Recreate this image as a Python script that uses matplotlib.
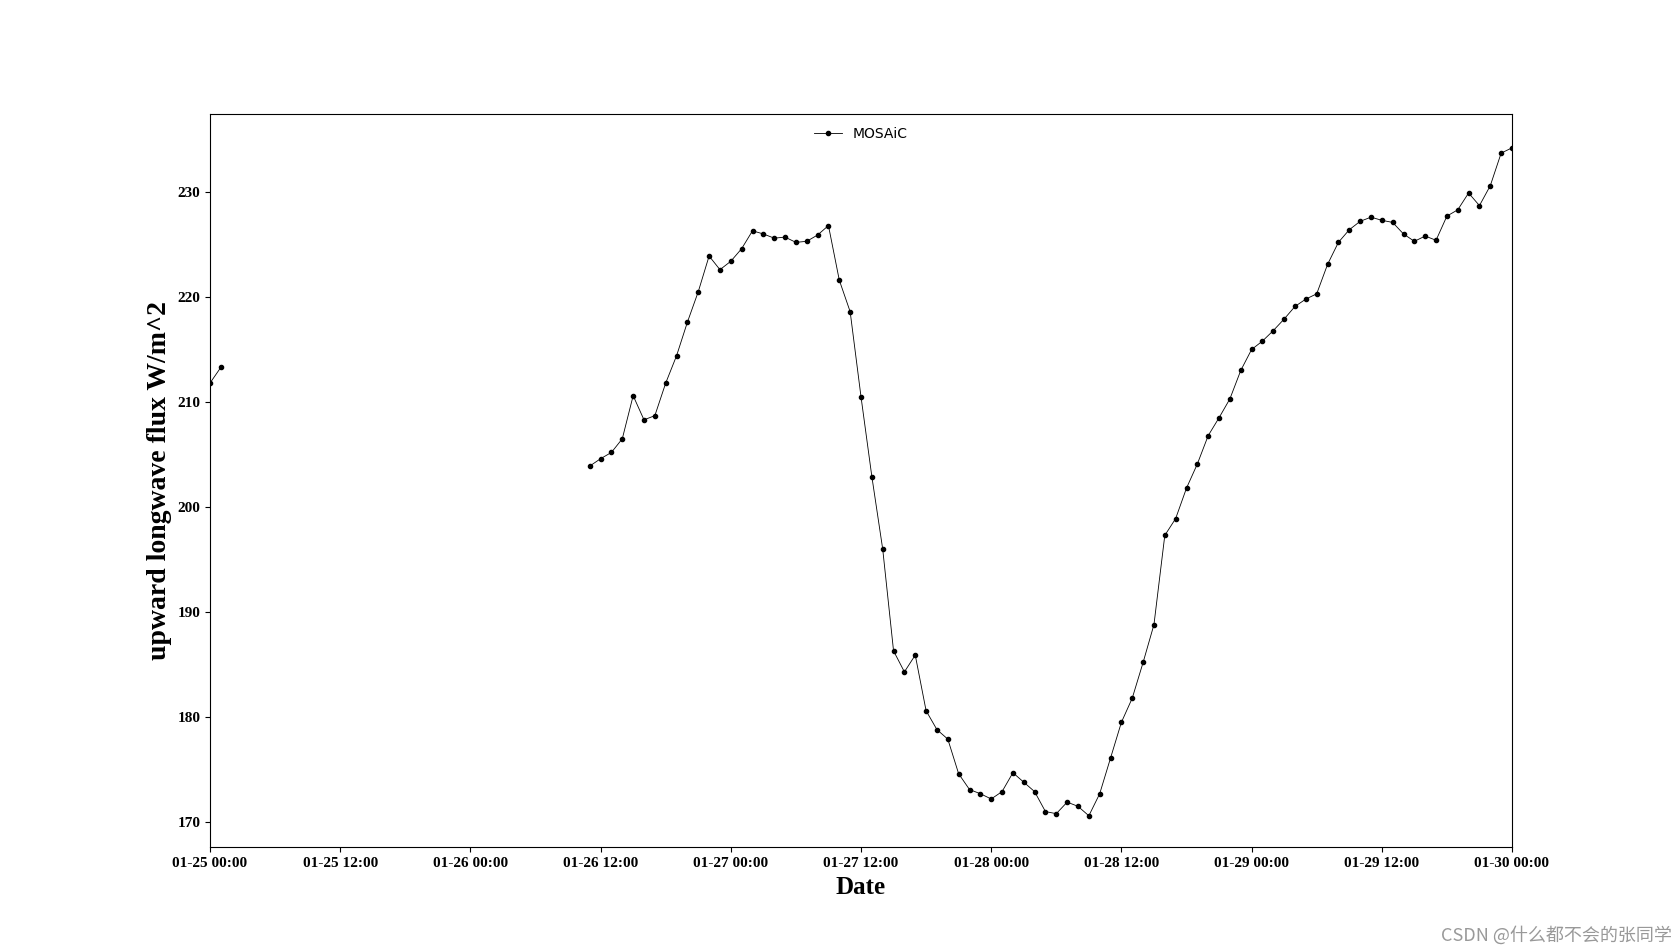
import matplotlib
matplotlib.use("Agg")
import matplotlib.pyplot as plt
import matplotlib.dates as mdates
import numpy as np
import pandas as pd

start = pd.Timestamp("2020-01-25 00:00")
times1 = pd.date_range(start, periods=2, freq="h")
vals1 = [211.8, 213.3]
times2 = pd.date_range(start + pd.Timedelta(hours=35), periods=86, freq="h")
vals2 = [203.9, 204.6, 205.2, 206.5, 210.6, 208.3, 208.7, 211.8, 214.4, 217.6,
         220.5, 223.9, 222.6, 223.4, 224.6, 226.3, 226.0, 225.6, 225.7, 225.2,
         225.3, 225.9, 226.8, 221.6, 218.6, 210.5, 202.9, 196.0, 186.3, 184.3,
         185.9, 180.6, 178.8, 177.9, 174.6, 173.1, 172.7, 172.2, 172.9, 174.7,
         173.8, 172.9, 171.0, 170.8, 171.9, 171.5, 170.6, 172.7, 176.1, 179.5,
         181.8, 185.2, 188.8, 197.3, 198.9, 201.8, 204.1, 206.8, 208.5, 210.3,
         213.0, 215.0, 215.8, 216.8, 217.9, 219.1, 219.8, 220.3, 223.1, 225.2,
         226.4, 227.2, 227.6, 227.3, 227.1, 226.0, 225.3, 225.8, 225.4, 227.7,
         228.3, 229.9, 228.7, 230.6, 233.7, 234.2]

times = list(times1) + [start + pd.Timedelta(hours=10)] + list(times2)
vals = vals1 + [np.nan] + vals2

fig = plt.figure(figsize=(16.8, 9.52), dpi=100)
ax = fig.add_subplot(111)
ax.plot(times, vals, color="black", marker="o", markersize=3, linewidth=0.6, label="MOSAiC")
ax.set_xlim(start, start + pd.Timedelta(days=5))
ax.set_ylim(167.6, 237.4)
ax.xaxis.set_major_locator(mdates.HourLocator(byhour=[0, 12]))
ax.xaxis.set_major_formatter(mdates.DateFormatter("%m-%d %H:%M"))
ax.set_yticks([170, 180, 190, 200, 210, 220, 230])
for lab in ax.get_xticklabels() + ax.get_yticklabels():
    lab.set_fontfamily("Liberation Serif")
    lab.set_fontweight("bold")
    lab.set_fontsize(11)
ax.set_xlabel("Date", fontfamily="Liberation Serif", fontweight="bold", fontsize=18)
ax.set_ylabel("upward longwave flux W/m^2", fontfamily="Liberation Serif", fontweight="bold", fontsize=20)
ax.legend(loc="upper center", frameon=False, fontsize=10)
fig.text(0.995, 0.008, "CSDN @什么都不会的张同学", ha="right", va="bottom", color="#999999",
         fontsize=13, family=["Noto Sans CJK SC", "DejaVu Sans"])
fig.savefig("out.png", dpi=100)
